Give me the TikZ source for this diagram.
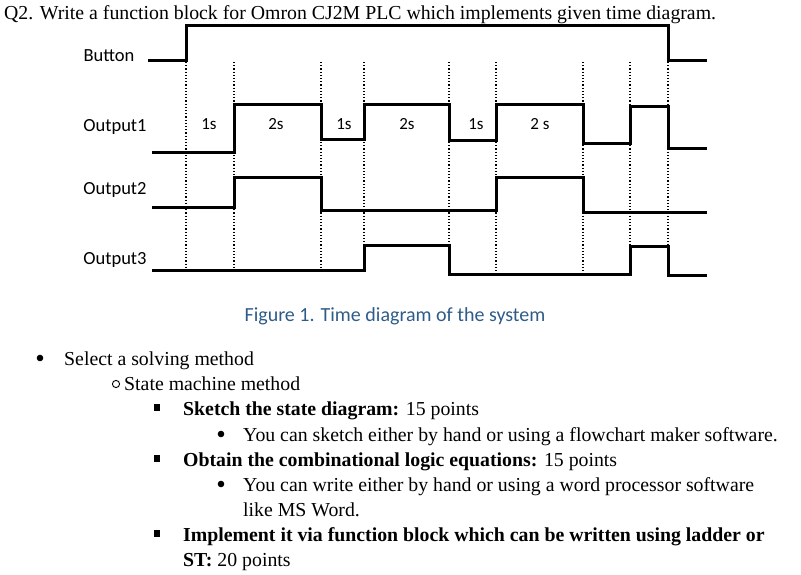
\documentclass[tikz,border=0pt]{standalone}
\usepackage{fontspec}
\setmainfont{Liberation Serif}
\newfontfamily\calfont{Carlito}
\begin{document}
\begin{tikzpicture}[x=1pt,y=-1pt,
  wave/.style={line width=3pt,line join=miter},
  guide/.style={dotted,line width=1.2pt},
  lbl/.style={font=\calfont\fontsize{18.5}{20}\selectfont,inner sep=0pt},
  tl/.style={font=\calfont\fontsize{17}{18}\selectfont,inner sep=0pt},
  txt/.style={anchor=base west,inner sep=0pt,font=\fontsize{19.8}{22}\selectfont}]
\useasboundingbox (0,0) rectangle (801,574);
\node[txt] (title) at (4,19) {Q2. Write a function block for Omron CJ2M PLC which implements given time diagram.};
% labels
\node[lbl] (b) at (109,56) {Button};
\node[lbl] (o1) at (115,127) {Output1};
\node[lbl] (o2) at (115,190) {Output2};
\node[lbl] (o3) at (115,260) {Output3};
% guides
\foreach \x in {186,234,321,364,449,496,583,630,668}
  \draw[guide] (\x,62) -- (\x,272);
% waves
\draw[wave] (148,60) -- (186,60) -- (186,25) -- (668,25) -- (668,60) -- (707,60);
\draw[wave] (152,152) -- (234,152) -- (234,104) -- (321,104) -- (321,139) -- (364,139) -- (364,104) -- (449,104) -- (449,140) -- (496,140) -- (496,104) -- (583,104) -- (583,143) -- (630,143) -- (630,106) -- (668,106) -- (668,148) -- (707,148);
\draw[wave] (152,207) -- (234,207) -- (234,177) -- (321,177) -- (321,210) -- (496,210) -- (496,177) -- (583,177) -- (583,212) -- (707,212);
\draw[wave] (152,270) -- (364,270) -- (364,245) -- (449,245) -- (449,274) -- (630,274) -- (630,246) -- (668,246) -- (668,275) -- (707,275);
\node[tl] (t1) at (209,124) {1s};
\node[tl] (t2) at (276,124) {2s};
\node[tl] (t3) at (344,124) {1s};
\node[tl] (t4) at (407,124) {2s};
\node[tl] (t5) at (476,124) {1s};
\node[tl] (t6) at (540,124) {2 s};
\node[font=\calfont\fontsize{20}{22}\selectfont,text={rgb,255:red,46;green,92;blue,138},inner sep=0pt] (cap) at (395,316) {Figure 1. Time diagram of the system};
% list
\fill (40,358) circle (3.3);
\node[txt] (l1) at (64,365) {Select a solving method};
\draw[line width=0.9pt] (116,384) circle (3.6);
\node[txt] (l2) at (124,390) {State machine method};
\fill (154,404) rectangle (160,411);
\node[txt] (l3) at (183,415) {\textbf{Sketch the state diagram:} 15 points};
\fill (221,434) circle (3.3);
\node[txt] (l4) at (243,441) {You can sketch either by hand or using a flowchart maker software.};
\fill (154,455) rectangle (160,462);
\node[txt] (l5) at (183,466) {\textbf{Obtain the combinational logic equations:} 15 points};
\fill (221,484) circle (3.3);
\node[txt] (l6) at (243,491) {You can write either by hand or using a word processor software};
\node[txt] (l7) at (243,516) {like MS Word.};
\fill (154,530) rectangle (160,537);
\node[txt] (l8) at (183,541) {\textbf{Implement it via function block which can be written using ladder or}};
\node[txt] (l9) at (183,566) {\textbf{ST:} 20 points};
\end{tikzpicture}
\end{document}
